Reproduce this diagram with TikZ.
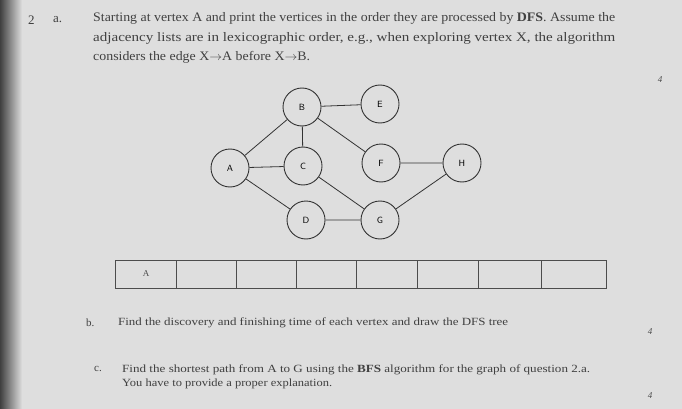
\documentclass[tikz,border=0pt]{standalone}
\usepackage{fontspec}
\usepackage{graphicx}
\setmainfont{Liberation Serif}
\newcommand{\fitw}[2]{\resizebox{#1}{\height}{#2}}
\begin{document}
\begin{tikzpicture}[x=1pt,y=-1pt,
  vtx/.style={circle,draw=black!80,line width=0.9pt,minimum size=38pt,inner sep=0pt,font=\fontsize{9}{10}\selectfont\sffamily},
  edge/.style={draw=black!80,line width=0.8pt},
  txt/.style={anchor=west,inner sep=0pt,text=black!75,font=\fontsize{13}{15}\selectfont},
  sm/.style={anchor=west,inner sep=0pt,text=black!75,font=\fontsize{11}{13}\selectfont},
  cell/.style={draw=black!70,line width=0.7pt},
  mark4/.style={font=\itshape\fontsize{9}{10}\selectfont,text=black!70}]
\useasboundingbox (0,0) rectangle (682,409);
\fill[black!13] (0,0) rectangle (682,409);
\shade[left color=black!75,right color=black!13] (0,0) rectangle (22,409);
\node[txt] (n2) at (28,20) {2};
\node[txt] (na) at (53,20) {a.};
\node[txt] (l1) at (93,18) {\fitw{522pt}{Starting at vertex A and print the vertices in the order they are processed by \textbf{DFS}. Assume the}};
\node[txt] (l2) at (93,38) {\fitw{522pt}{adjacency lists are in lexicographic order, e.g., when exploring vertex X, the algorithm}};
\node[txt] (l3) at (93,57) {\fitw{217pt}{considers the edge X$\rightarrow$A before X$\rightarrow$B.}};
\node[mark4] (m1) at (660,80) {4};
\node[vtx] (A) at (230,168) {A};
\node[vtx] (B) at (302,107) {B};
\node[vtx] (E) at (380,104) {E};
\node[vtx] (C) at (303,166) {C};
\node[vtx] (F) at (381,163) {F};
\node[vtx] (H) at (462,163) {H};
\node[vtx] (D) at (306,220) {D};
\node[vtx] (G) at (380,220) {G};
\draw[edge] (A)--(B) (A)--(C) (A)--(D) (B)--(C) (B)--(E) (B)--(F) (C)--(G) (D)--(G) (F)--(H) (G)--(H);
\draw[cell] (115,260) rectangle (606,288);
\foreach \x in {176,236,296,356,417,478,541} \draw[cell] (\x,260) -- (\x,288);
\node[font=\fontsize{9}{10}\selectfont,text=black!70] (cA) at (146,274) {A};
\node[sm] (nb) at (86,323) {b.};
\node[sm] (qb) at (118,323) {\fitw{390pt}{Find the discovery and finishing time of each vertex and draw the DFS tree}};
\node[mark4] (m2) at (650,332) {4};
\node[sm] (nc) at (94,369) {c.};
\node[sm] (qc1) at (122,370) {\fitw{468pt}{Find the shortest path from A to G using the \textbf{BFS} algorithm for the graph of question 2.a.}};
\node[sm] (qc2) at (122,384) {\fitw{210pt}{You have to provide a proper explanation.}};
\node[mark4] (m3) at (650,396) {4};
\end{tikzpicture}
\end{document}
